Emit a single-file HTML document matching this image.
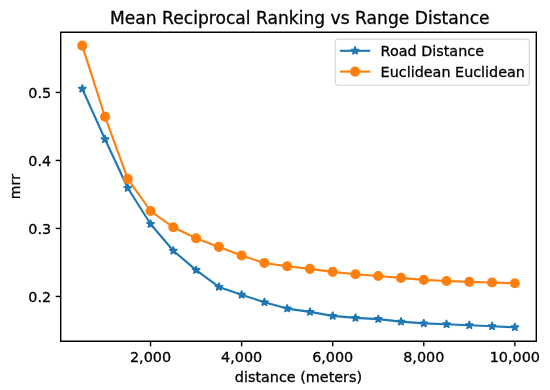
<!DOCTYPE html><html><head><meta charset="utf-8"><style>html,body{margin:0;padding:0;background:#fff;}svg{display:block;}text{font-family:'DejaVu Sans','Liberation Sans',sans-serif;fill:#000;stroke:#000;stroke-width:0.3px;}</style></head><body>
<svg width="550" height="390" viewBox="0 0 550 390">
<rect x="0" y="0" width="550" height="390" fill="#fff"/>
<polyline points="82.24,88.80 105.01,139.30 127.78,188.00 150.55,224.05 173.32,250.70 196.09,270.10 218.86,286.90 241.62,294.80 264.39,302.25 287.16,308.60 309.93,311.90 332.70,315.90 355.47,317.90 378.24,319.10 401.01,321.65 423.78,323.40 446.54,324.20 469.31,325.30 492.08,326.30 514.85,327.30" fill="none" stroke="#1f77b4" stroke-width="2.1" stroke-linejoin="round" stroke-linecap="square"/>
<path d="M82.24,84.55 L81.29,87.49 L78.20,87.49 L80.70,89.30 L79.75,92.24 L82.24,90.42 L84.74,92.24 L83.79,89.30 L86.29,87.49 L83.20,87.49 Z" fill="#1f77b4" stroke="#1f77b4" stroke-width="1.4" stroke-linejoin="bevel"/><path d="M105.01,135.05 L104.06,137.99 L100.97,137.99 L103.47,139.80 L102.51,142.74 L105.01,140.92 L107.51,142.74 L106.56,139.80 L109.05,137.99 L105.97,137.99 Z" fill="#1f77b4" stroke="#1f77b4" stroke-width="1.4" stroke-linejoin="bevel"/><path d="M127.78,183.75 L126.83,186.69 L123.74,186.69 L126.24,188.50 L125.28,191.44 L127.78,189.62 L130.28,191.44 L129.33,188.50 L131.82,186.69 L128.74,186.69 Z" fill="#1f77b4" stroke="#1f77b4" stroke-width="1.4" stroke-linejoin="bevel"/><path d="M150.55,219.80 L149.60,222.74 L146.51,222.74 L149.01,224.55 L148.05,227.49 L150.55,225.67 L153.05,227.49 L152.09,224.55 L154.59,222.74 L151.50,222.74 Z" fill="#1f77b4" stroke="#1f77b4" stroke-width="1.4" stroke-linejoin="bevel"/><path d="M173.32,246.45 L172.36,249.39 L169.28,249.39 L171.77,251.20 L170.82,254.14 L173.32,252.32 L175.82,254.14 L174.86,251.20 L177.36,249.39 L174.27,249.39 Z" fill="#1f77b4" stroke="#1f77b4" stroke-width="1.4" stroke-linejoin="bevel"/><path d="M196.09,265.85 L195.13,268.79 L192.05,268.79 L194.54,270.60 L193.59,273.54 L196.09,271.72 L198.59,273.54 L197.63,270.60 L200.13,268.79 L197.04,268.79 Z" fill="#1f77b4" stroke="#1f77b4" stroke-width="1.4" stroke-linejoin="bevel"/><path d="M218.86,282.65 L217.90,285.59 L214.81,285.59 L217.31,287.40 L216.36,290.34 L218.86,288.52 L221.35,290.34 L220.40,287.40 L222.90,285.59 L219.81,285.59 Z" fill="#1f77b4" stroke="#1f77b4" stroke-width="1.4" stroke-linejoin="bevel"/><path d="M241.62,290.55 L240.67,293.49 L237.58,293.49 L240.08,295.30 L239.13,298.24 L241.62,296.42 L244.12,298.24 L243.17,295.30 L245.67,293.49 L242.58,293.49 Z" fill="#1f77b4" stroke="#1f77b4" stroke-width="1.4" stroke-linejoin="bevel"/><path d="M264.39,298.00 L263.44,300.94 L260.35,300.94 L262.85,302.75 L261.90,305.69 L264.39,303.87 L266.89,305.69 L265.94,302.75 L268.44,300.94 L265.35,300.94 Z" fill="#1f77b4" stroke="#1f77b4" stroke-width="1.4" stroke-linejoin="bevel"/><path d="M287.16,304.35 L286.21,307.29 L283.12,307.29 L285.62,309.10 L284.66,312.04 L287.16,310.22 L289.66,312.04 L288.71,309.10 L291.20,307.29 L288.12,307.29 Z" fill="#1f77b4" stroke="#1f77b4" stroke-width="1.4" stroke-linejoin="bevel"/><path d="M309.93,307.65 L308.98,310.59 L305.89,310.59 L308.39,312.40 L307.43,315.34 L309.93,313.52 L312.43,315.34 L311.48,312.40 L313.97,310.59 L310.89,310.59 Z" fill="#1f77b4" stroke="#1f77b4" stroke-width="1.4" stroke-linejoin="bevel"/><path d="M332.70,311.65 L331.75,314.59 L328.66,314.59 L331.16,316.40 L330.20,319.34 L332.70,317.52 L335.20,319.34 L334.24,316.40 L336.74,314.59 L333.65,314.59 Z" fill="#1f77b4" stroke="#1f77b4" stroke-width="1.4" stroke-linejoin="bevel"/><path d="M355.47,313.65 L354.51,316.59 L351.43,316.59 L353.92,318.40 L352.97,321.34 L355.47,319.52 L357.97,321.34 L357.01,318.40 L359.51,316.59 L356.42,316.59 Z" fill="#1f77b4" stroke="#1f77b4" stroke-width="1.4" stroke-linejoin="bevel"/><path d="M378.24,314.85 L377.28,317.79 L374.20,317.79 L376.69,319.60 L375.74,322.54 L378.24,320.72 L380.74,322.54 L379.78,319.60 L382.28,317.79 L379.19,317.79 Z" fill="#1f77b4" stroke="#1f77b4" stroke-width="1.4" stroke-linejoin="bevel"/><path d="M401.01,317.40 L400.05,320.34 L396.96,320.34 L399.46,322.15 L398.51,325.09 L401.01,323.27 L403.50,325.09 L402.55,322.15 L405.05,320.34 L401.96,320.34 Z" fill="#1f77b4" stroke="#1f77b4" stroke-width="1.4" stroke-linejoin="bevel"/><path d="M423.78,319.15 L422.82,322.09 L419.73,322.09 L422.23,323.90 L421.28,326.84 L423.78,325.02 L426.27,326.84 L425.32,323.90 L427.82,322.09 L424.73,322.09 Z" fill="#1f77b4" stroke="#1f77b4" stroke-width="1.4" stroke-linejoin="bevel"/><path d="M446.54,319.95 L445.59,322.89 L442.50,322.89 L445.00,324.70 L444.05,327.64 L446.54,325.82 L449.04,327.64 L448.09,324.70 L450.59,322.89 L447.50,322.89 Z" fill="#1f77b4" stroke="#1f77b4" stroke-width="1.4" stroke-linejoin="bevel"/><path d="M469.31,321.05 L468.36,323.99 L465.27,323.99 L467.77,325.80 L466.81,328.74 L469.31,326.92 L471.81,328.74 L470.86,325.80 L473.35,323.99 L470.27,323.99 Z" fill="#1f77b4" stroke="#1f77b4" stroke-width="1.4" stroke-linejoin="bevel"/><path d="M492.08,322.05 L491.13,324.99 L488.04,324.99 L490.54,326.80 L489.58,329.74 L492.08,327.92 L494.58,329.74 L493.63,326.80 L496.12,324.99 L493.04,324.99 Z" fill="#1f77b4" stroke="#1f77b4" stroke-width="1.4" stroke-linejoin="bevel"/><path d="M514.85,323.05 L513.90,325.99 L510.81,325.99 L513.31,327.80 L512.35,330.74 L514.85,328.92 L517.35,330.74 L516.39,327.80 L518.89,325.99 L515.80,325.99 Z" fill="#1f77b4" stroke="#1f77b4" stroke-width="1.4" stroke-linejoin="bevel"/>
<polyline points="82.24,45.60 105.01,116.70 127.78,178.90 150.55,211.00 173.32,227.30 196.09,238.30 218.86,246.90 241.62,255.55 264.39,263.00 287.16,266.25 309.93,268.85 332.70,271.85 355.47,274.25 378.24,276.00 401.01,277.90 423.78,279.90 446.54,281.00 469.31,281.90 492.08,282.50 514.85,283.25" fill="none" stroke="#ff7f0e" stroke-width="2.1" stroke-linejoin="round" stroke-linecap="square"/>
<circle cx="82.24" cy="45.60" r="4.35" fill="#ff7f0e" stroke="#ff7f0e" stroke-width="1.4"/><circle cx="105.01" cy="116.70" r="4.35" fill="#ff7f0e" stroke="#ff7f0e" stroke-width="1.4"/><circle cx="127.78" cy="178.90" r="4.35" fill="#ff7f0e" stroke="#ff7f0e" stroke-width="1.4"/><circle cx="150.55" cy="211.00" r="4.35" fill="#ff7f0e" stroke="#ff7f0e" stroke-width="1.4"/><circle cx="173.32" cy="227.30" r="4.35" fill="#ff7f0e" stroke="#ff7f0e" stroke-width="1.4"/><circle cx="196.09" cy="238.30" r="4.35" fill="#ff7f0e" stroke="#ff7f0e" stroke-width="1.4"/><circle cx="218.86" cy="246.90" r="4.35" fill="#ff7f0e" stroke="#ff7f0e" stroke-width="1.4"/><circle cx="241.62" cy="255.55" r="4.35" fill="#ff7f0e" stroke="#ff7f0e" stroke-width="1.4"/><circle cx="264.39" cy="263.00" r="4.35" fill="#ff7f0e" stroke="#ff7f0e" stroke-width="1.4"/><circle cx="287.16" cy="266.25" r="4.35" fill="#ff7f0e" stroke="#ff7f0e" stroke-width="1.4"/><circle cx="309.93" cy="268.85" r="4.35" fill="#ff7f0e" stroke="#ff7f0e" stroke-width="1.4"/><circle cx="332.70" cy="271.85" r="4.35" fill="#ff7f0e" stroke="#ff7f0e" stroke-width="1.4"/><circle cx="355.47" cy="274.25" r="4.35" fill="#ff7f0e" stroke="#ff7f0e" stroke-width="1.4"/><circle cx="378.24" cy="276.00" r="4.35" fill="#ff7f0e" stroke="#ff7f0e" stroke-width="1.4"/><circle cx="401.01" cy="277.90" r="4.35" fill="#ff7f0e" stroke="#ff7f0e" stroke-width="1.4"/><circle cx="423.78" cy="279.90" r="4.35" fill="#ff7f0e" stroke="#ff7f0e" stroke-width="1.4"/><circle cx="446.54" cy="281.00" r="4.35" fill="#ff7f0e" stroke="#ff7f0e" stroke-width="1.4"/><circle cx="469.31" cy="281.90" r="4.35" fill="#ff7f0e" stroke="#ff7f0e" stroke-width="1.4"/><circle cx="492.08" cy="282.50" r="4.35" fill="#ff7f0e" stroke="#ff7f0e" stroke-width="1.4"/><circle cx="514.85" cy="283.25" r="4.35" fill="#ff7f0e" stroke="#ff7f0e" stroke-width="1.4"/>
<g stroke="#000" stroke-width="1.4" stroke-linecap="square" fill="none">
<path d="M60.7,32.25 L536.3,32.25 L536.3,341.3 L60.7,341.3 Z" stroke-linejoin="miter"/>
<line x1="55.70" y1="296.45" x2="60.70" y2="296.45" stroke-linecap="butt"/>
<line x1="55.70" y1="228.45" x2="60.70" y2="228.45" stroke-linecap="butt"/>
<line x1="55.70" y1="160.45" x2="60.70" y2="160.45" stroke-linecap="butt"/>
<line x1="55.70" y1="92.45" x2="60.70" y2="92.45" stroke-linecap="butt"/>
<line x1="150.55" y1="341.30" x2="150.55" y2="346.30" stroke-linecap="butt"/>
<line x1="241.62" y1="341.30" x2="241.62" y2="346.30" stroke-linecap="butt"/>
<line x1="332.70" y1="341.30" x2="332.70" y2="346.30" stroke-linecap="butt"/>
<line x1="423.78" y1="341.30" x2="423.78" y2="346.30" stroke-linecap="butt"/>
<line x1="514.85" y1="341.30" x2="514.85" y2="346.30" stroke-linecap="butt"/>
</g>
<text x="51.1" y="301.62" font-size="14.37" text-anchor="end">0.2</text>
<text x="51.1" y="233.62" font-size="14.37" text-anchor="end">0.3</text>
<text x="51.1" y="165.62" font-size="14.37" text-anchor="end">0.4</text>
<text x="51.1" y="97.62" font-size="14.37" text-anchor="end">0.5</text>
<text x="150.55" y="361.9" font-size="14.37" text-anchor="middle">2,000</text>
<text x="241.62" y="361.9" font-size="14.37" text-anchor="middle">4,000</text>
<text x="332.70" y="361.9" font-size="14.37" text-anchor="middle">6,000</text>
<text x="423.78" y="361.9" font-size="14.37" text-anchor="middle">8,000</text>
<text x="514.85" y="361.9" font-size="14.37" text-anchor="middle">10,000</text>
<text x="298.45" y="381.5" font-size="14.37" text-anchor="middle">distance (meters)</text>
<text transform="translate(19.6,186.6) rotate(-90)" x="0" y="0" font-size="14.1" text-anchor="middle">mrr</text>
<text x="299.8" y="23.8" font-size="17.12" text-anchor="middle">Mean Reciprocal Ranking vs Range Distance</text>
<rect x="335.3" y="39.1" width="194.00" height="46.10" rx="2.83" ry="2.83" fill="#fff" fill-opacity="0.8" stroke="#cccccc" stroke-opacity="0.8" stroke-width="1.13"/>
<line x1="340.9" y1="50.8" x2="369.2" y2="50.8" stroke="#1f77b4" stroke-width="2.1" stroke-linecap="square"/>
<path d="M355.05,46.55 L354.10,49.49 L351.01,49.49 L353.51,51.30 L352.55,54.24 L355.05,52.42 L357.55,54.24 L356.59,51.30 L359.09,49.49 L356.00,49.49 Z" fill="#1f77b4" stroke="#1f77b4" stroke-width="1.4" stroke-linejoin="bevel"/>
<text x="380.6" y="55.6" font-size="14.37">Road Distance</text>
<line x1="340.9" y1="71.6" x2="369.2" y2="71.6" stroke="#ff7f0e" stroke-width="2.1" stroke-linecap="square"/>
<circle cx="355.05" cy="71.6" r="4.35" fill="#ff7f0e" stroke="#ff7f0e" stroke-width="1.4"/>
<text x="380.6" y="76.5" font-size="14.37">Euclidean Euclidean</text>
</svg></body></html>
